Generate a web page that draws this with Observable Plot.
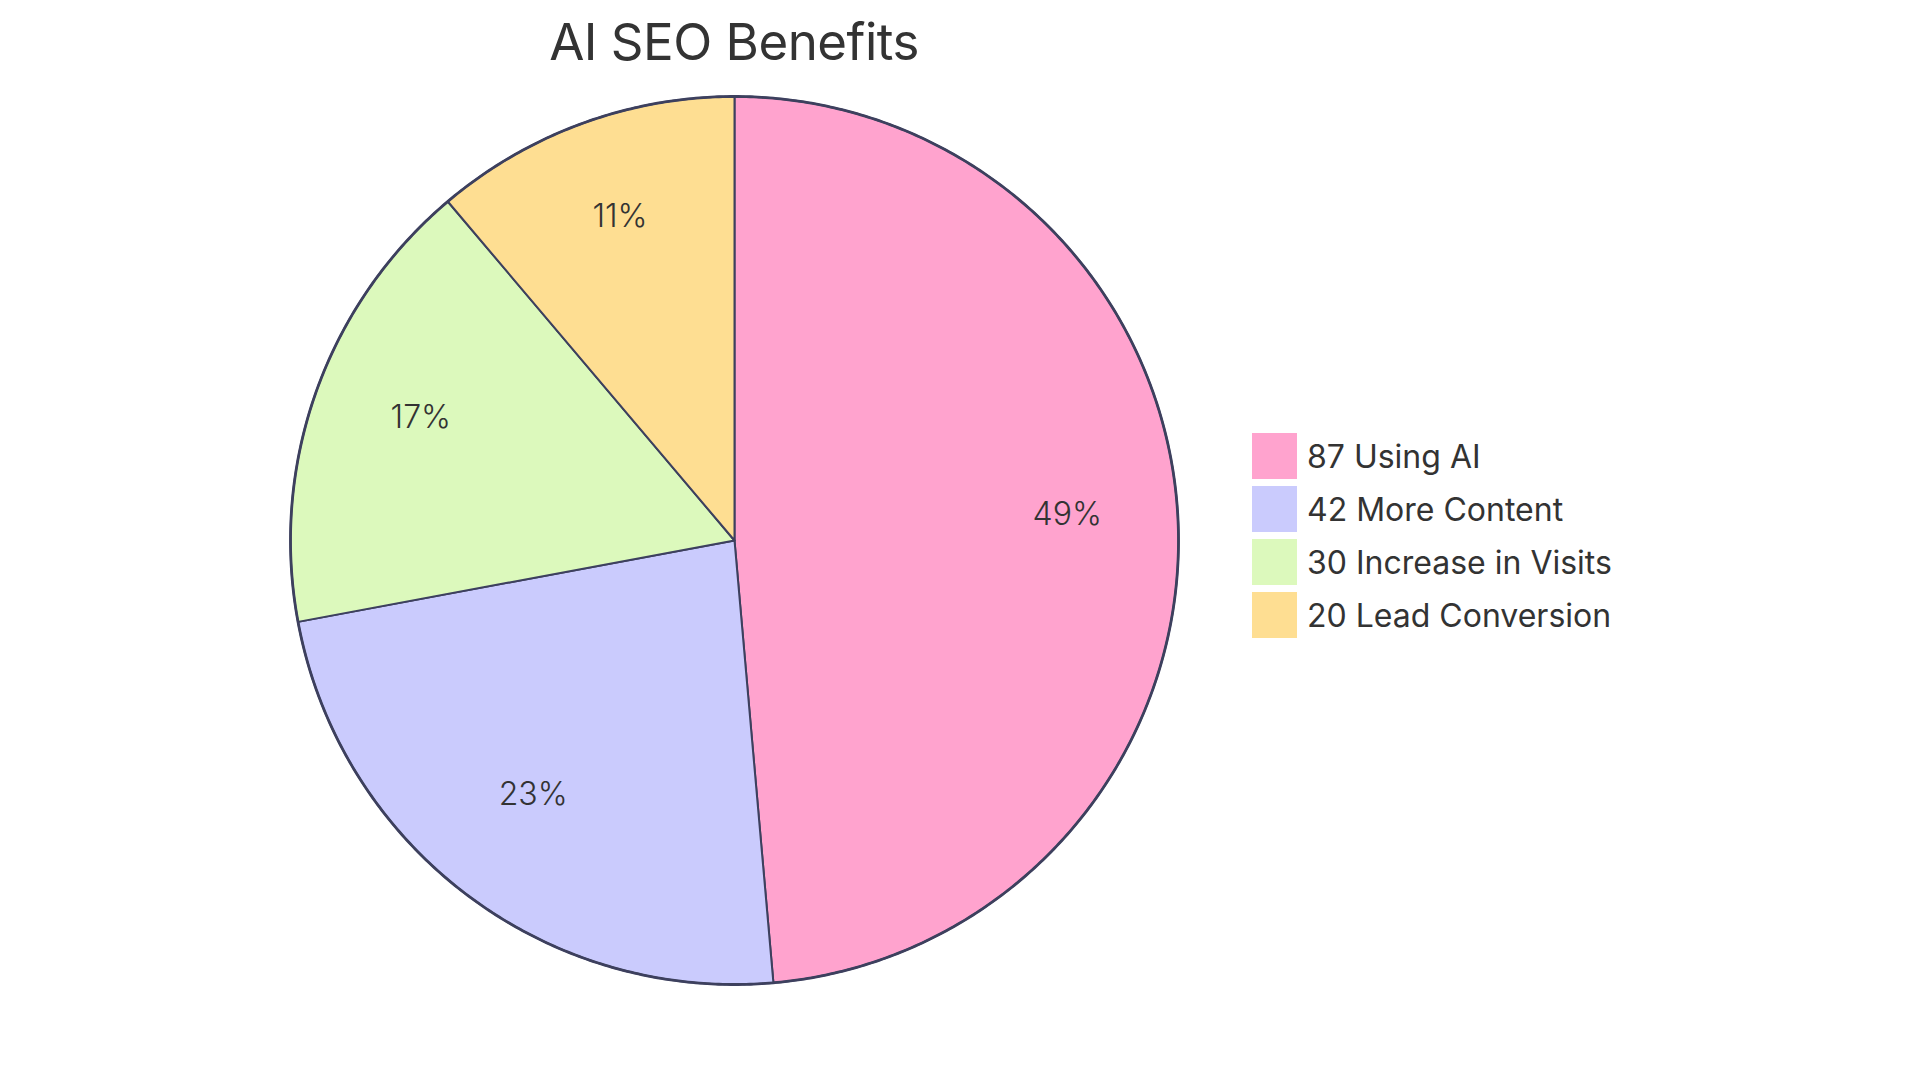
<!DOCTYPE html>
<html>
<head>
<meta charset="utf-8">
<script src="https://cdn.jsdelivr.net/npm/d3@7"></script>
<script src="https://cdn.jsdelivr.net/npm/@observablehq/plot@0.6"></script>
<style>
  html, body { margin: 0; padding: 0; background: #fff; }
  #wrap { position: relative; width: 1920px; height: 1083px; overflow: hidden; font-family: Inter, "Noto Sans", sans-serif; }
  #title { position: absolute; left: 0; width: 1468px; top: 11px; text-align: center; font-size: 51px; color: #333; font-weight: 400; letter-spacing: -0.5px; }
  #chart { position: absolute; left: 0; top: 0; }
  #legend { position: absolute; left: 1252px; top: 433px; }
  #legend .lg-swatches-columns { columns: 1 !important; }
  #legend .lg-swatch { font-size: 32px !important; color: #333 !important; font-family: Inter, "Noto Sans", sans-serif !important; padding-bottom: 7px !important; display: flex; align-items: center; }
  #legend .lg-swatch svg { margin-right: 10px !important; }
</style>
</head>
<body>
<div id="wrap">
  <div id="chart"></div>
  <div id="title">AI SEO Benefits</div>
  <div id="legend"></div>
</div>
<script>
const categories = ["Using AI", "More Content", "Increase in Visits", "Lead Conversion"];
const values = [87, 42, 30, 20];
const colors = ["#FFA3CE", "#CACBFD", "#DCF9BC", "#FEDE92"];
const legendLabels = categories.map((c, i) => `${values[i]} ${c}`);

const W = 1920, H = 1083;
const cx = 734, cy = 540, R = 444;

const pie = d3.pie().sort(null).value(d => d)(values);
const total = d3.sum(values);

// polygon vertices for each slice (angles from the data via d3.pie)
const slicePts = [];
pie.forEach((p, i) => {
  const key = legendLabels[i];
  slicePts.push({key, x: 0, y: 0});
  const n = Math.max(2, Math.ceil((p.endAngle - p.startAngle) / 0.005));
  for (let k = 0; k <= n; k++) {
    const a = p.startAngle + (p.endAngle - p.startAngle) * k / n;
    slicePts.push({key, x: Math.sin(a), y: Math.cos(a)});
  }
  slicePts.push({key, x: 0, y: 0});
});
const circlePts = d3.range(0, 721).map(k => {
  const a = k / 720 * 2 * Math.PI;
  return {x: Math.sin(a), y: Math.cos(a)};
});
const labels = pie.map((p, i) => {
  const m = (p.startAngle + p.endAngle) / 2;
  return {x: 0.75 * Math.sin(m), y: 0.75 * Math.cos(m), text: `${(values[i] / total * 100).toFixed(0)}%`};
});

const colorScale = {domain: legendLabels, range: colors};

const chart = Plot.plot({
  width: W, height: H,
  margin: 0,
  x: {domain: [-cx / R, (W - cx) / R], axis: null},
  y: {domain: [-(H - cy) / R, cy / R], axis: null},
  color: colorScale,
  style: {background: "transparent", overflow: "visible"},
  marks: [
    Plot.line(slicePts, {x: "x", y: "y", z: "key", fill: "key", stroke: "#3d405e", strokeWidth: 2, strokeLinejoin: "round", curve: "linear"}),
    Plot.line(circlePts, {x: "x", y: "y", stroke: "#3d405e", strokeWidth: 2.8, curve: "linear"}),
    Plot.text(labels, {x: "x", y: "y", dy: -11, text: "text", fontSize: 32, fill: "#333", fontFamily: "Inter, 'Noto Sans', sans-serif", fontWeight: 300})
  ]
});
document.getElementById("chart").appendChild(chart);

const legend = Plot.legend({
  color: colorScale,
  legend: "swatches",
  columns: 1,
  swatchWidth: 45,
  swatchHeight: 46,
  className: "lg"
});
document.getElementById("legend").appendChild(legend);
</script>
</body>
</html>
